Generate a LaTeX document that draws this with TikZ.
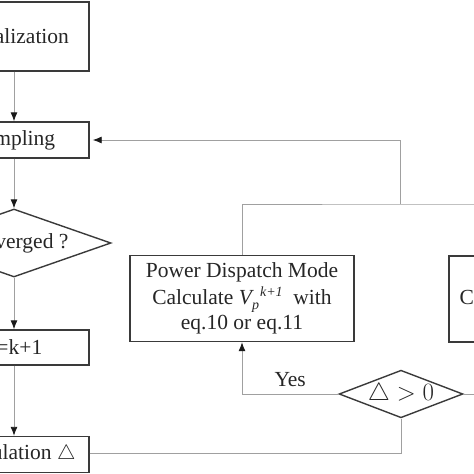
\documentclass[tikz,border=0pt]{standalone}
\usepackage{fontspec}
\setmainfont{Liberation Serif}
\usetikzlibrary{arrows.meta,shapes.geometric}
\definecolor{boxc}{HTML}{3A3A3A}
\definecolor{linec}{HTML}{A0A0A0}
\newcommand{\smallidx}[1]{{\fontsize{14}{14}\selectfont\textit{#1}}}
\tikzset{
  box/.style={draw=boxc, line width=1.4pt, inner sep=0pt, align=center, text=black!85},
  dmd/.style={diamond, draw=boxc, line width=1.4pt, inner sep=0pt, text=black!85},
  conn/.style={draw=linec, line width=0.9pt},
  arr/.style={-{Latex[length=9pt,width=7pt,color=black!90]}},
}
\begin{document}
\begin{tikzpicture}[x=1pt,y=-1pt,font=\fontsize{21.5}{28}\selectfont]
\useasboundingbox (0,0) rectangle (474,474);
\clip (0,0) rectangle (474,474);
% left column
\node[box, minimum width=150, minimum height=69] (init) at (14,36.5) {Initialization};
\node[box, minimum width=150, minimum height=36] (samp) at (14,140) {Sampling};
\node[dmd, minimum width=194, minimum height=68, aspect=2.85] (conv) at (14,243) {Converged ?};
\node[box, minimum width=150, minimum height=35] (kbox) at (14,347.5) {k=k+1};
\node[box, minimum width=150, minimum height=36] (calc) at (14,454.5) {Calculation $\triangle$};
% right part
\node[box, minimum width=224, minimum height=86] (power) at (242,298.5) {Power Dispatch Mode\\[-1pt]Calculate \textit{V}\kern-2pt\raisebox{-5pt}{\smallidx{p}}\kern1pt\raisebox{8pt}{\smallidx{k+1}}\ \ with\\[-3pt]eq.10 or eq.11};
\node[box, minimum width=224, minimum height=86] (other) at (561,299) {Constant Voltage Mode};
\node[dmd, minimum width=116, minimum height=44, aspect=2.6, font=\fontsize{24}{28}\selectfont] (delta) at (401,394) {$\triangle > 0$};
\coordinate (m) at (400,204);
% connectors
\draw[conn, arr] (init) -- (samp);
\draw[conn, arr] (samp) -- (conv);
\draw[conn, arr] (conv) -- (kbox);
\draw[conn, arr] (kbox) -- (calc);
\draw[conn] (calc.east |- 0,453) -| (delta.south);
\draw[conn, arr] (delta.west) -| (power.south) node[pos=0.25, above=4pt, text=black!85] {Yes};
\draw[conn, arr] (delta.east) -| (other.south);
\draw[conn] (power.north) |- (m) -| (other.north);
\draw[conn, arr] (m) |- ([xshift=3pt]samp.east);
\end{tikzpicture}
\end{document}
